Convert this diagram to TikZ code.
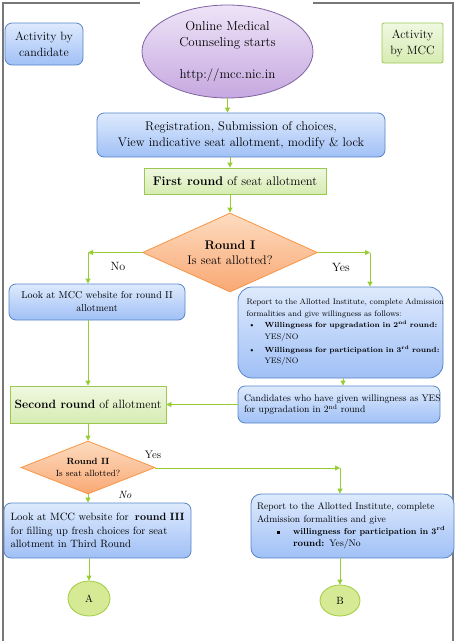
\documentclass[tikz,border=0pt]{standalone}
\usetikzlibrary{shapes.geometric,arrows.meta,calc}
\definecolor{bluetop}{RGB}{222,234,253}
\definecolor{bluebot}{RGB}{160,192,246}
\definecolor{blueline}{RGB}{88,132,200}
\definecolor{greentop}{RGB}{240,248,225}
\definecolor{greenbot}{RGB}{214,236,178}
\definecolor{greenline}{RGB}{155,200,80}
\definecolor{orgtop}{RGB}{253,220,192}
\definecolor{orgbot}{RGB}{249,168,116}
\definecolor{orgline}{RGB}{247,150,70}
\definecolor{purtop}{RGB}{238,228,247}
\definecolor{purbot}{RGB}{198,168,224}
\definecolor{purline}{RGB}{128,100,162}
\definecolor{circfill}{RGB}{214,234,150}
\definecolor{circline}{RGB}{160,204,60}
\definecolor{arrowc}{RGB}{150,205,50}
\definecolor{framec}{RGB}{120,120,120}
\tikzset{
  bluebox/.style={draw=blueline, line width=0.8pt, top color=bluetop, bottom color=bluebot, rounded corners=7pt, inner sep=0pt},
  greenbox/.style={draw=greenline, line width=0.8pt, top color=greentop, bottom color=greenbot, inner sep=0pt},
  decision/.style={diamond, draw=orgline, line width=0.8pt, top color=orgtop, bottom color=orgbot, inner sep=0pt, aspect=2},
  startell/.style={ellipse, draw=purline, line width=0.8pt, top color=purtop, bottom color=purbot, inner sep=0pt},
  conn/.style={ellipse, draw=circline, line width=0.8pt, fill=circfill, inner sep=0pt},
  arr/.style={draw=arrowc, line width=0.8pt, -{Triangle[width=5pt,length=5pt]}},
  lbl/.style={inner sep=0pt},
}
\begin{document}
\begin{tikzpicture}[x=1pt,y=-1pt]
\useasboundingbox (0,0) rectangle (456,641);
% frame
\draw[framec, line width=1.5pt] (3,641) -- (3,3) -- (140,3);
\draw[framec, line width=1.5pt] (313,3) -- (453,3) -- (453,641);

% nodes
\node[bluebox, minimum width=78pt, minimum height=42pt, align=center, font=\fontsize{12}{16}\selectfont] (cand) at (44,44) {Activity by\\candidate};
\node[startell, minimum width=171pt, minimum height=93pt, align=center, font=\fontsize{13}{16}\selectfont] (ell) at (227.5,51.5) {Online Medical\\Counseling starts\\[16pt]http://mcc.nic.in};
\node[greenbox, rounded corners=2pt, minimum width=61pt, minimum height=40pt, align=center, font=\fontsize{12}{16}\selectfont] (mcc) at (412.5,43) {Activity\\by MCC};
\node[bluebox, minimum width=288pt, minimum height=44pt, align=center, font=\fontsize{12.5}{16}\selectfont] (reg) at (241,135) {Registration, Submission of choices,\\View indicative seat allotment, modify \& lock};
\node[greenbox, minimum width=182pt, minimum height=26pt, font=\fontsize{12.5}{16}\selectfont] (first) at (235,181) {\textbf{First round} of seat allotment};
\node[decision, minimum width=175pt, minimum height=79pt, align=center, font=\fontsize{12.5}{15}\selectfont] (d1) at (230,252.5) {\textbf{Round I}\\Is seat allotted?};
\node[lbl, font=\fontsize{12}{14}\selectfont] (no1) at (118,266) {No};
\node[lbl, font=\fontsize{12}{14}\selectfont] (yes1) at (341,267) {Yes};

\node[bluebox, minimum width=176pt, minimum height=36pt, align=center, font=\fontsize{10}{13}\selectfont] (box1) at (97,302) {Look at MCC website for round II\\allotment};

\node[bluebox, rounded corners=14pt, minimum width=205pt, minimum height=91pt, text width=188pt, align=left, font=\fontsize{8}{11.5}\selectfont] (box2) at (340.5,332.5) {\makebox[188pt][s]{Report to the Allotted Institute, complete Admission}\\
formalities and give willingness as follows:\\
\makebox[18pt][l]{\hspace{2pt}\textbullet}\makebox[170pt][s]{\fontsize{7.4}{11.5}\selectfont\textbf{Willingness for upgradation in 2\textsuperscript{nd} round:}}\\
\hspace*{18pt}YES/NO\\[1.5pt]
\makebox[18pt][l]{\hspace{2pt}\textbullet}\makebox[170pt][s]{\fontsize{7.4}{11.5}\selectfont\textbf{Willingness for participation in 3\textsuperscript{rd} round:}}\\
\hspace*{18pt}YES/NO};

\node[bluebox, minimum width=202pt, minimum height=37pt, text width=190pt, align=left, font=\fontsize{9.6}{11.5}\selectfont] (cands) at (339,404.5) {\makebox[190pt][s]{Candidates who have given willingness as YES}\\for upgradation in 2\textsuperscript{nd} round};

\node[greenbox, minimum width=156pt, minimum height=37pt, font=\fontsize{12}{16}\selectfont] (second) at (88,404.5) {\textbf{Second round} of allotment};

\node[decision, minimum width=134pt, minimum height=53pt, align=center, font=\fontsize{9}{12}\selectfont] (d2) at (88,467.5) {\textbf{Round II}\\Is seat allotted?};
\node[lbl, font=\fontsize{11}{13}\selectfont] (yes2) at (153,455) {Yes};
\node[lbl, font=\fontsize{10.5}{13}\itshape] (no2) at (125,495) {No};

\node[bluebox, minimum width=187pt, minimum height=55pt, text width=174pt, align=left, font=\fontsize{10.6}{13.8}\selectfont] (box3) at (97.5,530.5) {\makebox[174pt][l]{Look at MCC website for\hfill\textbf{round III}}\\
\makebox[174pt][s]{for filling up fresh choices for seat}\\
allotment in Third Round};

\node[bluebox, rounded corners=10pt, minimum width=203pt, minimum height=64pt, text width=191pt, align=left, font=\fontsize{9.6}{12.3}\selectfont] (boxB) at (352.5,526) {\makebox[191pt][s]{Report to the Allotted Institute, complete}\\
Admission formalities and give\\
\hspace*{20pt}\makebox[16pt][l]{\rule[0.5pt]{2.8pt}{2.8pt}}\makebox[155pt][s]{\fontsize{8.6}{12.3}\selectfont\textbf{willingness for participation in 3\textsuperscript{rd}}}\\
\hspace*{36pt}\textbf{round:} Yes/No};

\node[conn, minimum width=42pt, minimum height=35pt, font=\fontsize{10.5}{12}\selectfont] (A) at (89,598.5) {A};
\node[conn, minimum width=40pt, minimum height=31pt, font=\fontsize{10.5}{12}\selectfont] (B) at (340,600.5) {B};

% helper coordinates
\coordinate (c1) at (88,252.5);
\coordinate (c2) at (370,252.5);
\coordinate (c3) at (340,468);

% connectors
\draw[arr] (ell) -- (ell |- reg.north);
\draw[arr] (d1.north |- reg.south) -- (d1.north |- first.north);
\draw[arr] (d1.north |- first.south) -- (d1.north);
\draw[arr] (d1.west) -- (c1);
\draw[arr] (c1) -- (c1 |- box1.north);
\draw[arr] (d1.east) -- (c2);
\draw[arr] (c2) -- (c2 |- box2.north);
\draw[arr] (second.north |- box1.south) -- (second.north);
\draw[arr] ($(box2.south)+(2.5,0)$) -- ($(box2.south |- cands.north)+(2.5,0)$);
\draw[arr] (cands.west) -- (second.east);
\draw[arr] (second.south) -- (d2.north);
\draw[arr] (d2.east |- c3) -- (c3);
\draw[arr] (c3) -- (c3 |- boxB.north);
\draw[arr] (d2.south) -- (d2.south |- box3.north);
\draw[arr] (A.north |- box3.south) -- (A.north);
\draw[arr] (B.north |- boxB.south) -- (B.north);
\end{tikzpicture}
\end{document}
